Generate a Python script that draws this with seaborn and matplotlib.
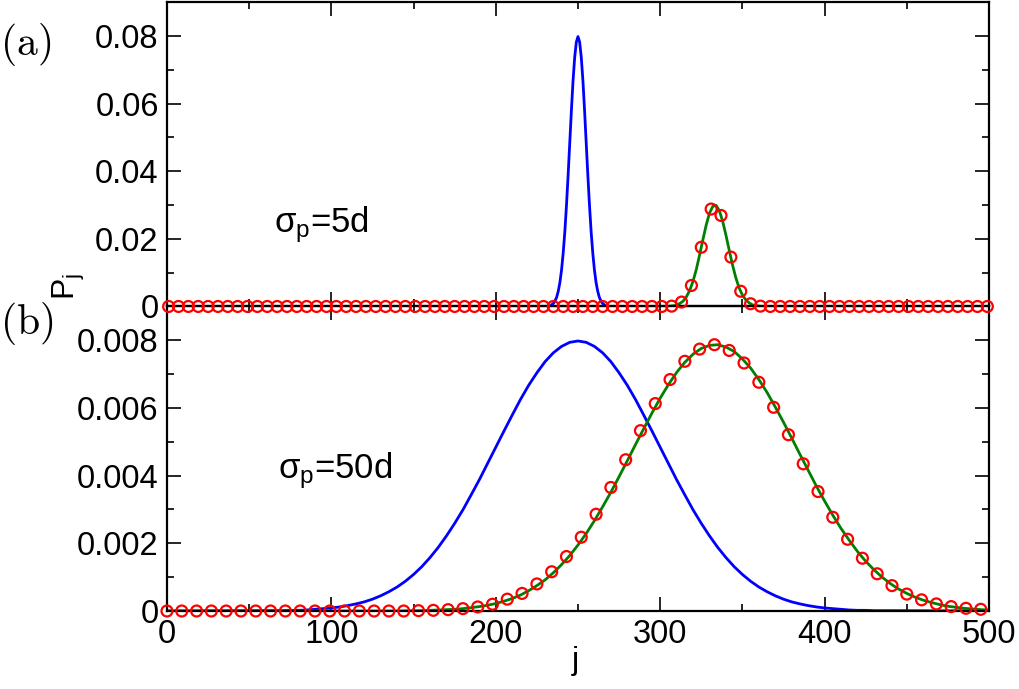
import numpy as np
import pandas as pd
import matplotlib
matplotlib.use("Agg")
import matplotlib.pyplot as plt
import seaborn as sns
from matplotlib.ticker import MultipleLocator

# ---- panel (a): sigma_p = 5d ----
top_blue_j = [0] + list(range(233, 268)) + [500]
top_blue_p = [0.0, 0.0,
              0.0005, 0.0009, 0.0016, 0.0027, 0.0045, 0.0071, 0.0108, 0.0158,
              0.0221, 0.0299, 0.0388, 0.0484, 0.0580, 0.0668, 0.0737, 0.0782,
              0.0798,
              0.0782, 0.0737, 0.0668, 0.0580, 0.0484, 0.0388, 0.0299, 0.0221,
              0.0158, 0.0108, 0.0071, 0.0045, 0.0027, 0.0016, 0.0009, 0.0005,
              0.0, 0.0]

top_green_j = [0, 304] + list(range(306, 361, 2)) + [362, 500]
top_green_p = [0.0, 0.0,
               0.0001, 0.0002, 0.0004, 0.0009, 0.0016, 0.0029, 0.0048, 0.0075,
               0.0110, 0.0153, 0.0198, 0.0241, 0.0276, 0.0296, 0.0299, 0.0283,
               0.0252, 0.0211, 0.0166, 0.0123, 0.0085, 0.0055, 0.0034, 0.0020,
               0.0011, 0.0005, 0.0003, 0.0001,
               0.0, 0.0]

top_circ_j = list(range(1, 500, 6))
top_peak_j = [307, 313, 319, 325, 331, 337, 343, 349, 355, 361]
top_peak_p = [0.0001, 0.0013, 0.0062, 0.0175, 0.0288, 0.0269, 0.0146, 0.0045, 0.0008, 0.0001]

# ---- panel (b): sigma_p = 50d ----
bot_blue_j = [0] + list(range(60, 441, 5)) + [500]
bot_blue_p = [0.0,
              0.00001, 0.00001, 0.00001, 0.00002, 0.00002, 0.00003, 0.00005, 0.00007,
              0.00009, 0.00012, 0.00016, 0.00021, 0.00027, 0.00035, 0.00045, 0.00057,
              0.00071, 0.00088, 0.00108, 0.00131, 0.00158, 0.00188, 0.00222, 0.00259,
              0.00299, 0.00343, 0.00388, 0.00436, 0.00484, 0.00532, 0.00579, 0.00625,
              0.00667, 0.00704, 0.00737, 0.00763, 0.00782, 0.00794,
              0.00798,
              0.00794, 0.00782, 0.00763, 0.00737, 0.00704, 0.00667, 0.00625, 0.00579,
              0.00532, 0.00484, 0.00436, 0.00388, 0.00343, 0.00299, 0.00259, 0.00222,
              0.00188, 0.00158, 0.00131, 0.00108, 0.00088, 0.00071, 0.00057, 0.00045,
              0.00035, 0.00027, 0.00021, 0.00016, 0.00012, 0.00009, 0.00007, 0.00005,
              0.00003, 0.00002, 0.00002, 0.00001, 0.00001, 0.00001,
              0.0]

bot_green_j = [0, 140] + list(range(150, 501, 5))
bot_green_p = [0.0, 0.0,
               0.00001, 0.00001, 0.00002, 0.00003, 0.00004, 0.00005, 0.00007, 0.00010,
               0.00013, 0.00017, 0.00022, 0.00029, 0.00037, 0.00047, 0.00060, 0.00075,
               0.00092, 0.00113, 0.00137, 0.00164, 0.00195, 0.00229, 0.00267, 0.00308,
               0.00351, 0.00397, 0.00444, 0.00492, 0.00539, 0.00585, 0.00629, 0.00669,
               0.00705, 0.00735, 0.00759, 0.00776, 0.00785, 0.00787, 0.00780, 0.00767,
               0.00745, 0.00718, 0.00684, 0.00646, 0.00603, 0.00558, 0.00511, 0.00463,
               0.00416, 0.00369, 0.00325, 0.00283, 0.00244, 0.00209, 0.00176, 0.00147,
               0.00122, 0.00100, 0.00081, 0.00065, 0.00052, 0.00041, 0.00032, 0.00025,
               0.00019, 0.00014, 0.00011, 0.00008, 0.00006, 0.00004, 0.00003]

bot_circ_j = list(range(0, 500, 9))
bot_circ_p = [0.0] * 17 + [
    0.00001, 0.00002, 0.00004, 0.00007, 0.00012, 0.00020,
    0.00035, 0.00052, 0.00080, 0.00116, 0.00161, 0.00218, 0.00286, 0.00365,
    0.00447, 0.00533, 0.00613, 0.00684, 0.00738, 0.00774, 0.00787, 0.00770,
    0.00733, 0.00676, 0.00602, 0.00521, 0.00435, 0.00353, 0.00277, 0.00212,
    0.00156, 0.00110, 0.00075, 0.00050, 0.00033, 0.00021, 0.00013, 0.00008,
    0.00005]

x_ticks = [0, 100, 200, 300, 400, 500]

# build circle series for panel (a)
top_circ_p = [0.0] * len(top_circ_j)
for jj, pp in zip(top_peak_j, top_peak_p):
    top_circ_p[top_circ_j.index(jj)] = pp

sns.set_style("ticks")
plt.rcParams["font.family"] = ["Liberation Sans", "DejaVu Sans"]
plt.rcParams["mathtext.fontset"] = "cm"
plt.rcParams.update({
    "text.color": "black", "axes.labelcolor": "black",
    "xtick.color": "black", "ytick.color": "black",
    "axes.edgecolor": "black",
    "xtick.direction": "in", "ytick.direction": "in",
    "xtick.top": True, "ytick.right": True,
    "xtick.major.size": 10, "ytick.major.size": 10,
    "xtick.minor.size": 5, "ytick.minor.size": 5,
    "xtick.major.width": 1.2, "ytick.major.width": 1.2,
    "xtick.minor.width": 1.2, "ytick.minor.width": 1.2,
    "axes.linewidth": 1.6,
})

fig = plt.figure(figsize=(10.2, 6.89), dpi=100)
ax_a = fig.add_axes([0.1637, 0.5552, 0.8059, 0.4418])
ax_b = fig.add_axes([0.1637, 0.1132, 0.8059, 0.4420])


def draw_panel(ax, bj, bp, gj, gp, cj, cp):
    sns.lineplot(x=bj, y=bp, ax=ax, color="#0000ff", lw=2.0)
    sns.lineplot(x=gj, y=gp, ax=ax, color="#008000", lw=2.0)
    sns.scatterplot(x=cj, y=cp, ax=ax, marker="o", s=62, facecolors="none",
                    edgecolors="#ff0000", linewidths=1.6, clip_on=False, zorder=5)
    ax.set_xlim(0, 500)
    ax.xaxis.set_major_locator(MultipleLocator(100))
    ax.xaxis.set_minor_locator(MultipleLocator(50))
    ax.tick_params(labelsize=23.5, pad=6)
    ax.patch.set_alpha(0)
    ax.set_xlabel("")
    ax.set_ylabel("")


draw_panel(ax_a, top_blue_j, top_blue_p, top_green_j, top_green_p, top_circ_j, top_circ_p)
ax_a.set_ylim(0, 0.09)
ax_a.set_yticks([0, 0.02, 0.04, 0.06, 0.08])
ax_a.yaxis.set_minor_locator(MultipleLocator(0.01))
ax_a.set_yticklabels(["0", "0.02", "0.04", "0.06", "0.08"])
ax_a.tick_params(axis="x", labelbottom=False)

draw_panel(ax_b, bot_blue_j, bot_blue_p, bot_green_j, bot_green_p, bot_circ_j, bot_circ_p)
ax_b.set_ylim(0, 0.009)
ax_b.set_yticks([0, 0.002, 0.004, 0.006, 0.008])
ax_b.yaxis.set_minor_locator(MultipleLocator(0.001))
ax_b.set_yticklabels(["0", "0.002", "0.004", "0.006", "0.008"])
ax_b.set_xticks(x_ticks)
ax_b.set_xticklabels([str(t) for t in x_ticks])

ax_a.set_zorder(3)

ax_a.text(0.13, 0.27, r"$\mathregular{σ_p}$=5d", transform=ax_a.transAxes,
          fontsize=25, ha="left", va="center")
ax_b.text(0.135, 0.46, r"$\mathregular{σ_p}$=50d", transform=ax_b.transAxes,
          fontsize=25, ha="left", va="center")

fig.text(0.0, 0.935, r"$\mathrm{(a)}$", fontsize=30, ha="left", va="center")
fig.text(0.0, 0.53, r"$\mathrm{(b)}$", fontsize=30, ha="left", va="center")
fig.text(0.068, 0.585, r"$\mathregular{P_j}$", fontsize=23, rotation=90,
         ha="center", va="center")
fig.text(0.564, 0.04, "j", fontsize=23, ha="center", va="center")

fig.savefig("out.png", dpi=100)
